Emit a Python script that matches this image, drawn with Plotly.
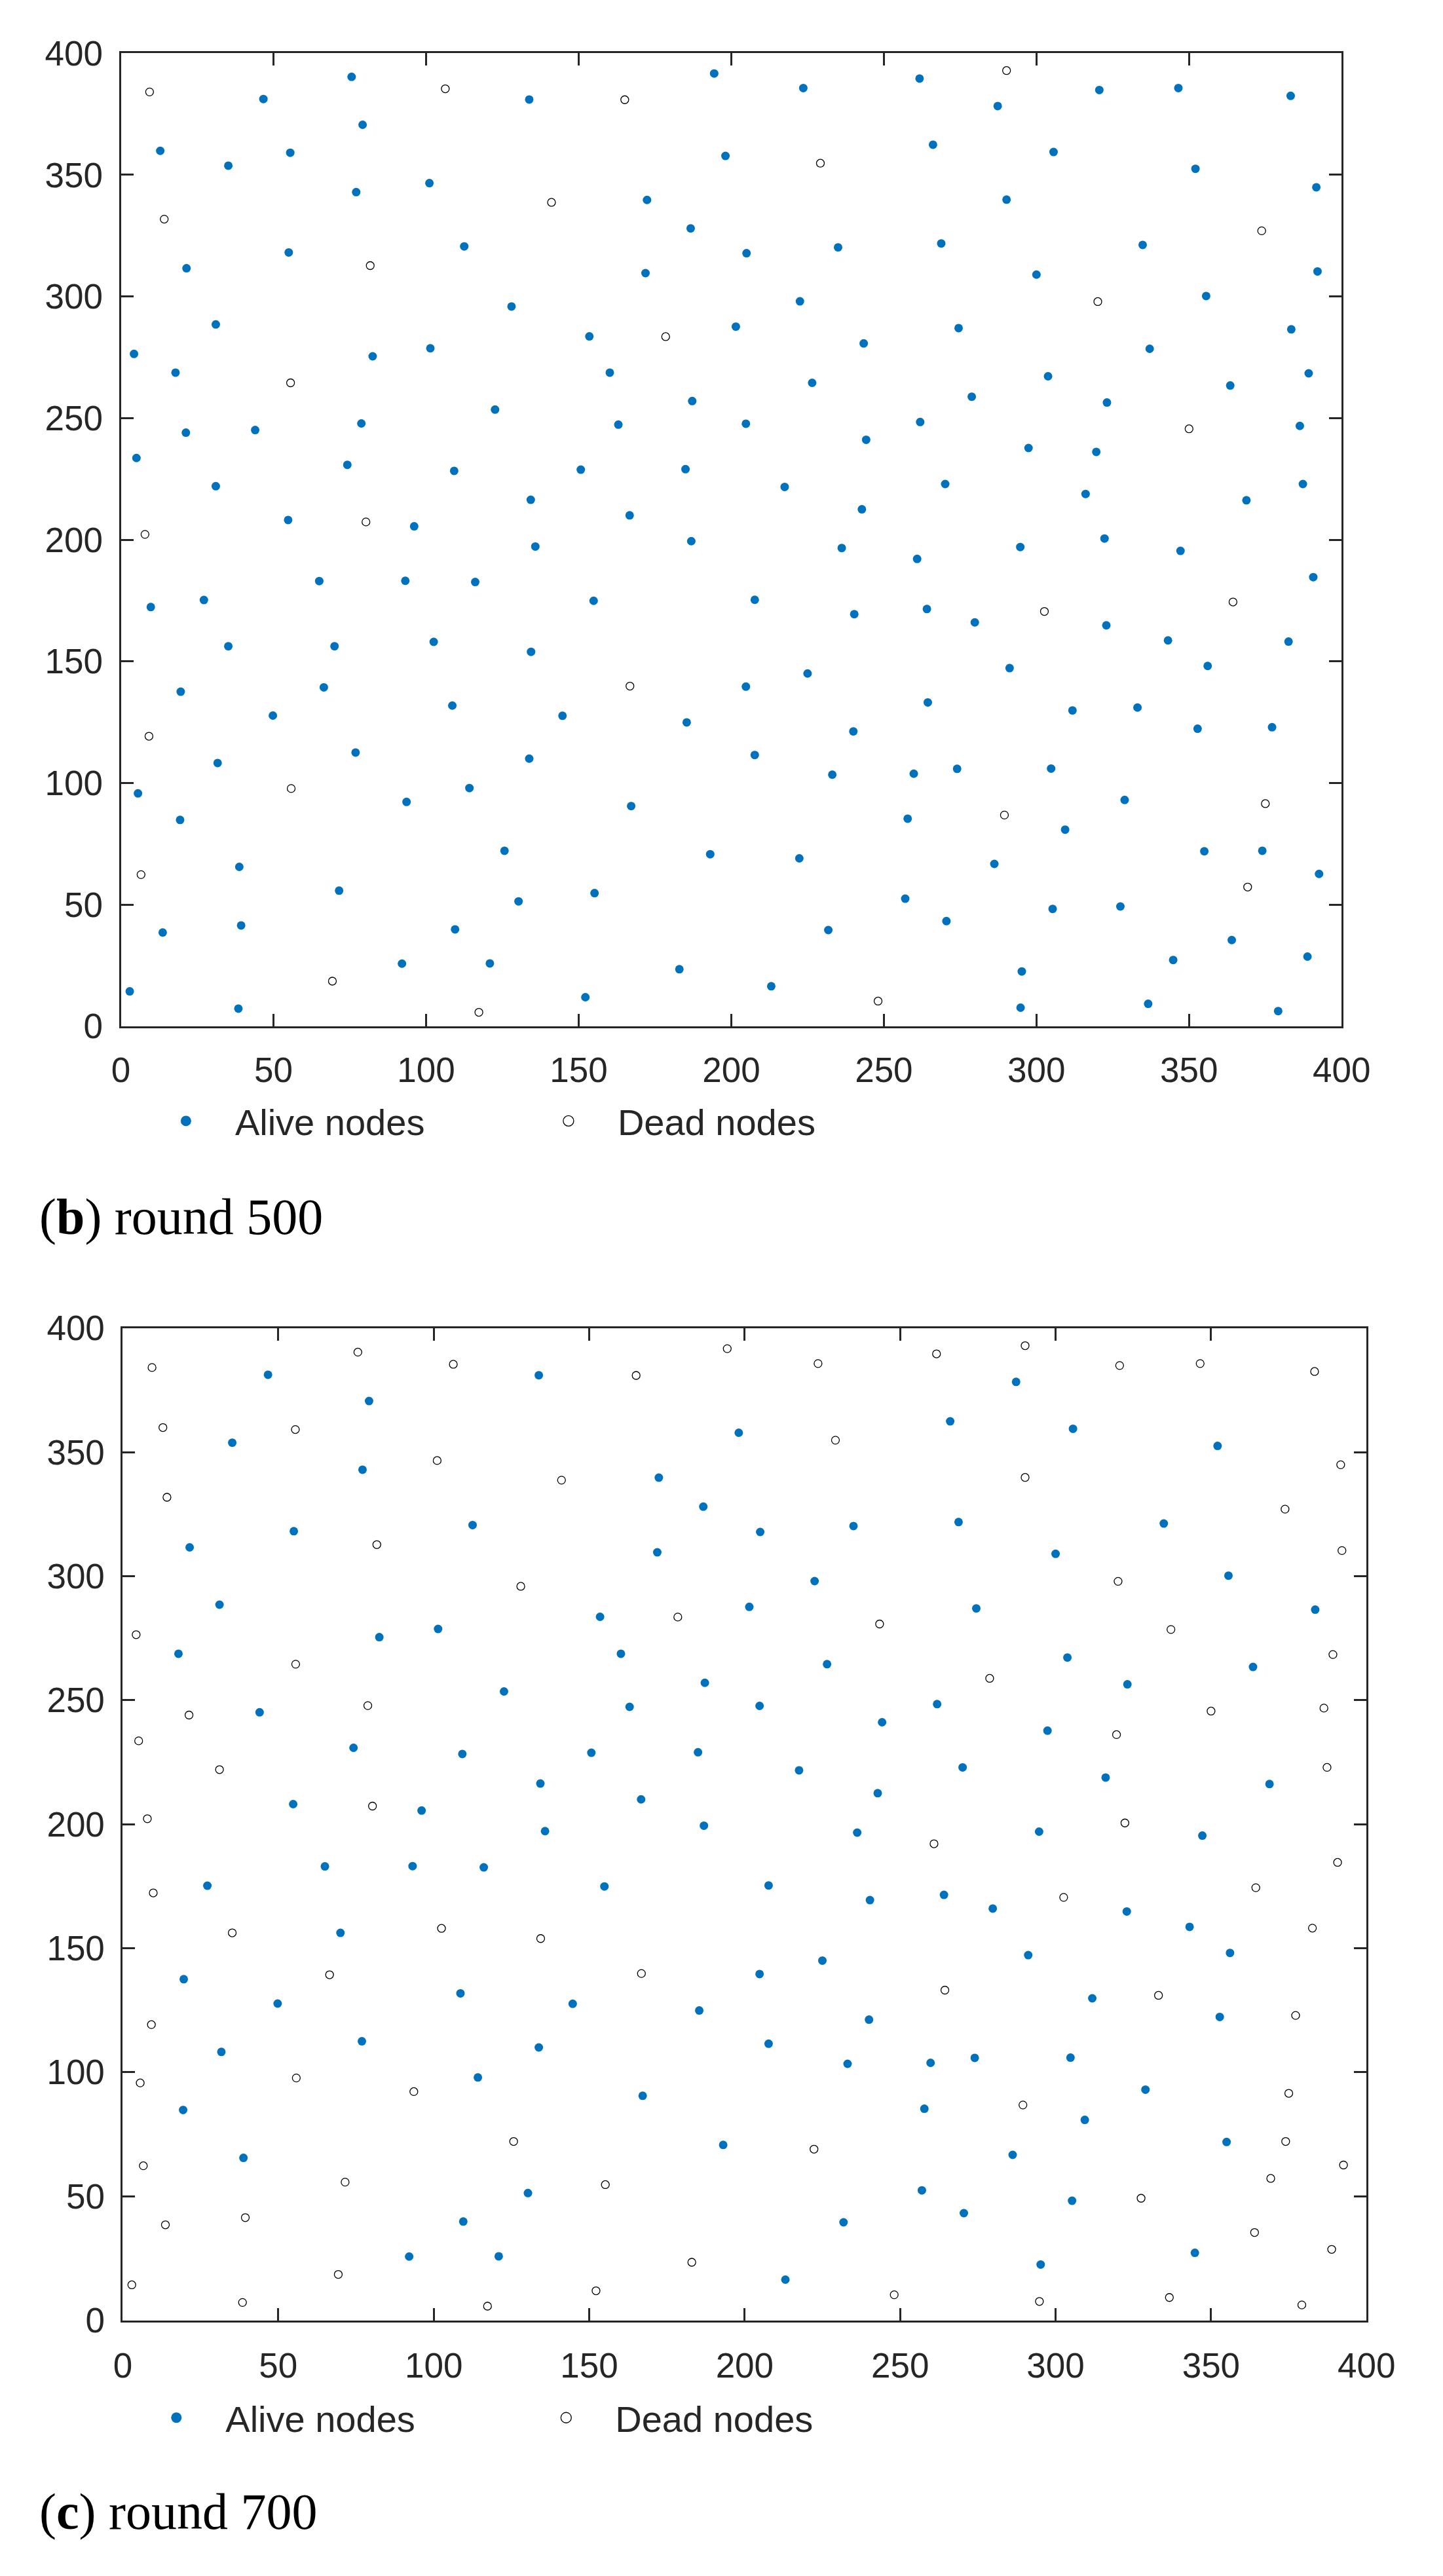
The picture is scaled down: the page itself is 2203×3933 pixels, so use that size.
import numpy as np
import plotly.graph_objects as go

# node positions (same 200 nodes in both rounds)
node_x = [
    9.4, 46.7, 75.6, 106.3, 133.8, 12.9, 35.2, 55.5, 79.2, 77.1,
    101.1, 141.1, 14.2, 55.0, 21.5, 81.7, 112.5, 128.0, 31.1, 4.3,
    17.9, 82.5, 101.4, 55.6, 122.6, 21.3, 44.0, 78.8, 5.1, 74.2,
    109.2, 31.1, 134.3, 54.8, 80.3, 96.1, 7.9, 135.8, 165.1, 194.4,
    223.6, 261.7, 198.1, 229.2, 266.1, 172.4, 186.7, 205.0, 235.0, 268.8,
    171.9, 222.5, 153.5, 178.5, 201.5, 243.4, 274.5, 160.2, 226.5, 187.2,
    278.8, 163.0, 204.8, 261.9, 244.2, 150.7, 185.0, 217.5, 270.1, 166.7,
    242.8, 186.9, 236.2, 290.2, 320.6, 346.5, 383.3, 287.3, 305.6, 352.1,
    391.7, 290.2, 373.8, 334.8, 300.0, 392.1, 320.1, 355.6, 383.5, 337.1,
    389.2, 303.8, 363.5, 323.1, 350.0, 386.3, 297.4, 319.6, 316.1, 368.8,
    387.3, 322.3, 294.7, 65.0, 93.2, 116.1, 9.8, 27.2, 35.2, 70.0,
    102.5, 134.4, 19.6, 66.5, 49.8, 108.6, 9.2, 76.9, 31.7, 133.8,
    5.6, 55.8, 114.2, 93.6, 19.4, 125.7, 38.8, 6.6, 71.5, 130.3,
    13.7, 39.4, 109.5, 92.1, 120.9, 69.3, 2.9, 38.5, 117.3, 260.9,
    154.9, 207.7, 240.3, 264.1, 166.8, 204.8, 225.0, 264.4, 144.7, 185.4,
    240.0, 207.7, 233.1, 259.8, 274.0, 167.2, 257.8, 193.1, 222.3, 155.2,
    257.0, 270.5, 231.8, 183.0, 213.1, 152.2, 248.1, 347.2, 390.7, 302.6,
    364.4, 279.8, 322.9, 343.1, 382.6, 291.2, 356.1, 311.8, 333.1, 352.8,
    377.2, 304.8, 328.9, 289.5, 375.0, 309.4, 355.0, 374.0, 286.2, 392.6,
    369.2, 305.3, 327.5, 364.0, 344.8, 295.2, 388.8, 294.8, 336.6, 379.2,
]
node_y = [
    384.1, 381.2, 390.3, 385.4, 381.0, 359.9, 353.8, 359.1, 370.6, 342.9,
    346.6, 338.7, 331.8, 318.1, 311.6, 312.7, 320.6, 295.9, 288.5, 276.4,
    268.7, 275.4, 278.7, 264.5, 253.5, 244.0, 245.1, 247.8, 233.6, 230.8,
    228.3, 222.0, 216.4, 208.1, 207.3, 205.5, 202.2, 197.2, 380.9, 391.7,
    385.7, 389.6, 357.8, 354.8, 362.4, 339.7, 328.0, 317.8, 320.2, 321.8,
    309.6, 298.0, 283.6, 283.5, 287.6, 280.7, 287.0, 268.7, 264.5, 257.0,
    258.8, 247.3, 247.7, 248.4, 241.1, 228.8, 229.0, 221.7, 222.9, 210.0,
    212.5, 199.4, 196.6, 392.9, 384.9, 385.7, 382.5, 378.3, 359.4, 352.5,
    344.9, 339.8, 327.0, 321.2, 309.0, 310.3, 297.9, 300.2, 286.5, 278.5,
    268.4, 267.2, 263.4, 256.4, 245.6, 246.8, 237.7, 236.1, 218.8, 216.2,
    222.9, 200.5, 197.0, 183.0, 183.1, 182.6, 172.3, 175.2, 156.2, 156.2,
    158.0, 153.9, 137.5, 139.3, 127.7, 131.8, 119.2, 112.5, 108.2, 110.0,
    95.7, 97.7, 97.9, 92.2, 84.8, 72.1, 65.5, 62.3, 55.7, 51.3,
    38.5, 41.4, 39.8, 25.7, 25.8, 18.5, 14.3, 7.2, 5.7, 192.1,
    174.9, 175.3, 169.4, 171.5, 139.8, 139.6, 145.0, 133.1, 127.6, 124.9,
    121.2, 111.5, 103.4, 103.8, 105.8, 90.5, 85.3, 70.7, 69.0, 54.7,
    52.4, 43.2, 39.5, 23.4, 16.4, 11.9, 10.3, 195.4, 184.6, 170.5,
    174.4, 166.0, 164.8, 158.6, 158.1, 147.2, 148.1, 129.8, 131.0, 122.3,
    122.9, 105.9, 93.0, 86.8, 91.5, 80.8, 71.9, 72.1, 66.7, 62.6,
    57.2, 48.2, 49.2, 35.4, 27.2, 22.5, 28.6, 7.6, 9.2, 6.2,
]

# 1 = alive, 0 = dead
alive_r500 = [
    0, 1, 1, 0, 1, 1, 1, 1, 1, 1,  1, 0, 0, 1, 1, 0, 1, 1, 1, 1,
    1, 1, 1, 0, 1, 1, 1, 1, 1, 1,  1, 1, 1, 1, 0, 1, 0, 1, 0, 1,
    1, 1, 1, 0, 1, 1, 1, 1, 1, 1,  1, 1, 1, 0, 1, 1, 1, 1, 1, 1,
    1, 1, 1, 1, 1, 1, 1, 1, 1, 1,  1, 1, 1, 0, 1, 1, 1, 1, 1, 1,
    1, 1, 0, 1, 1, 1, 0, 1, 1, 1,  1, 1, 1, 1, 0, 1, 1, 1, 1, 1,
    1, 1, 1, 1, 1, 1, 1, 1, 1, 1,  1, 1, 1, 1, 1, 1, 0, 1, 1, 1,
    1, 0, 1, 1, 1, 1, 1, 0, 1, 1,  1, 1, 1, 1, 1, 0, 1, 1, 0, 1,
    1, 1, 1, 1, 0, 1, 1, 1, 1, 1,  1, 1, 1, 1, 1, 1, 1, 1, 1, 1,
    1, 1, 1, 1, 1, 1, 0, 1, 1, 0,  0, 1, 1, 1, 1, 1, 1, 1, 1, 1,
    1, 1, 1, 0, 0, 1, 1, 1, 1, 1,  0, 1, 1, 1, 1, 1, 1, 1, 1, 1,
]
alive_r700 = [
    0, 1, 0, 0, 1, 0, 1, 0, 1, 1,  0, 0, 0, 1, 1, 0, 1, 0, 1, 0,
    1, 1, 1, 0, 1, 0, 1, 0, 0, 1,  1, 0, 1, 1, 0, 1, 0, 1, 0, 0,
    0, 0, 1, 0, 1, 1, 1, 1, 1, 1,  1, 1, 1, 0, 1, 0, 1, 1, 1, 1,
    0, 1, 1, 1, 1, 1, 1, 1, 1, 1,  1, 1, 1, 0, 0, 0, 0, 1, 1, 1,
    0, 0, 0, 1, 1, 0, 0, 1, 1, 0,  0, 1, 1, 1, 0, 0, 1, 0, 1, 1,
    0, 0, 1, 1, 1, 1, 0, 1, 0, 1,  0, 0, 1, 0, 1, 1, 0, 1, 1, 1,
    0, 0, 1, 0, 1, 0, 1, 0, 0, 1,  0, 0, 1, 1, 1, 0, 0, 0, 0, 0,
    1, 1, 1, 1, 0, 1, 1, 0, 1, 1,  1, 1, 1, 1, 1, 1, 1, 1, 0, 0,
    1, 1, 1, 0, 1, 0, 0, 1, 0, 0,  0, 1, 1, 1, 0, 1, 1, 1, 0, 1,
    0, 1, 1, 0, 0, 1, 1, 0, 1, 0,  0, 1, 0, 0, 1, 1, 0, 0, 0, 0,
]

axis_ticks = [0, 50, 100, 150, 200, 250, 300, 350, 400]
captions = ["(<b>b</b>) round 500", "(<b>c</b>) round 700"]

W, H = 2203, 3933
BLUE = "#0072BD"
AX = "#262626"
SANS = "Liberation Sans, Arial, sans-serif"
SERIF = "Liberation Serif, Times New Roman, serif"

x = np.array(node_x)
y = np.array(node_y)

alive_marker = dict(symbol="circle", size=13, color=BLUE, line=dict(width=0))
dead_marker = dict(symbol="circle-open", size=12, color="black", line=dict(width=1.3))

fig = go.Figure()
for i, status in enumerate([alive_r500, alive_r700]):
    s = np.array(status, dtype=bool)
    xa = "x" if i == 0 else "x2"
    ya = "y" if i == 0 else "y2"
    lg = "legend" if i == 0 else "legend2"
    fig.add_trace(go.Scatter(x=x[s], y=y[s], mode="markers", showlegend=False,
                             xaxis=xa, yaxis=ya, marker=alive_marker))
    fig.add_trace(go.Scatter(x=x[~s], y=y[~s], mode="markers", showlegend=False,
                             xaxis=xa, yaxis=ya, marker=dead_marker))
    # legend entries with bigger symbols
    fig.add_trace(go.Scatter(x=[None], y=[None], mode="markers", name="Alive nodes",
                             xaxis=xa, yaxis=ya, legend=lg,
                             marker=dict(symbol="circle", size=16, color=BLUE)))
    fig.add_trace(go.Scatter(x=[None], y=[None], mode="markers", name="Dead nodes",
                             xaxis=xa, yaxis=ya, legend=lg,
                             marker=dict(symbol="circle-open", size=16, color="black",
                                         line=dict(width=1.3))))

def axis_style(domain):
    return dict(
        domain=domain, range=[0, 400], tickvals=axis_ticks,
        ticks="inside", ticklen=19, tickwidth=3, tickcolor=AX,
        showline=True, linewidth=3, linecolor=AX, mirror="ticks",
        showgrid=False, zeroline=False,
        tickfont=dict(family=SANS, size=53, color=AX),
    )

xb = axis_style([166 / W, 2081 / W])
yb = axis_style([1 - 1553 / H, 1 - 45 / H])
xc = axis_style([169 / W, 2120 / W])
yc = axis_style([1 - 3559 / H, 1 - 2021 / H])
xb["ticklabelstandoff"] = 19
xc["ticklabelstandoff"] = 21
yb["ticklabelstandoff"] = 14
yc["ticklabelstandoff"] = 14
xc["anchor"] = "y2"
yc["anchor"] = "x2"

legend_common = dict(
    orientation="h", xanchor="left", yanchor="middle",
    font=dict(family=SANS, size=56, color=AX),
    bgcolor="rgba(0,0,0,0)", borderwidth=0,
    itemwidth=140, itemclick=False,
)

fig.update_layout(
    width=W, height=H, autosize=False,
    margin=dict(l=0, r=0, t=0, b=0),
    paper_bgcolor="white", plot_bgcolor="white",
    xaxis=xb, yaxis=yb, xaxis2=xc, yaxis2=yc,
    legend=dict(x=191 / W, y=1 - 1700 / H, entrywidth=429, **legend_common),
    legend2=dict(x=176 / W, y=1 - 3710 / H, entrywidth=440, **legend_common),
    annotations=[
        dict(text=captions[0], x=36 / W, y=1 - 1848 / H, xref="paper", yref="paper",
             xanchor="left", yanchor="middle", showarrow=False,
             font=dict(family=SERIF, size=78, color="black")),
        dict(text=captions[1], x=36 / W, y=1 - 3855 / H, xref="paper", yref="paper",
             xanchor="left", yanchor="middle", showarrow=False,
             font=dict(family=SERIF, size=78, color="black")),
    ],
)

fig.write_html("out.html")
